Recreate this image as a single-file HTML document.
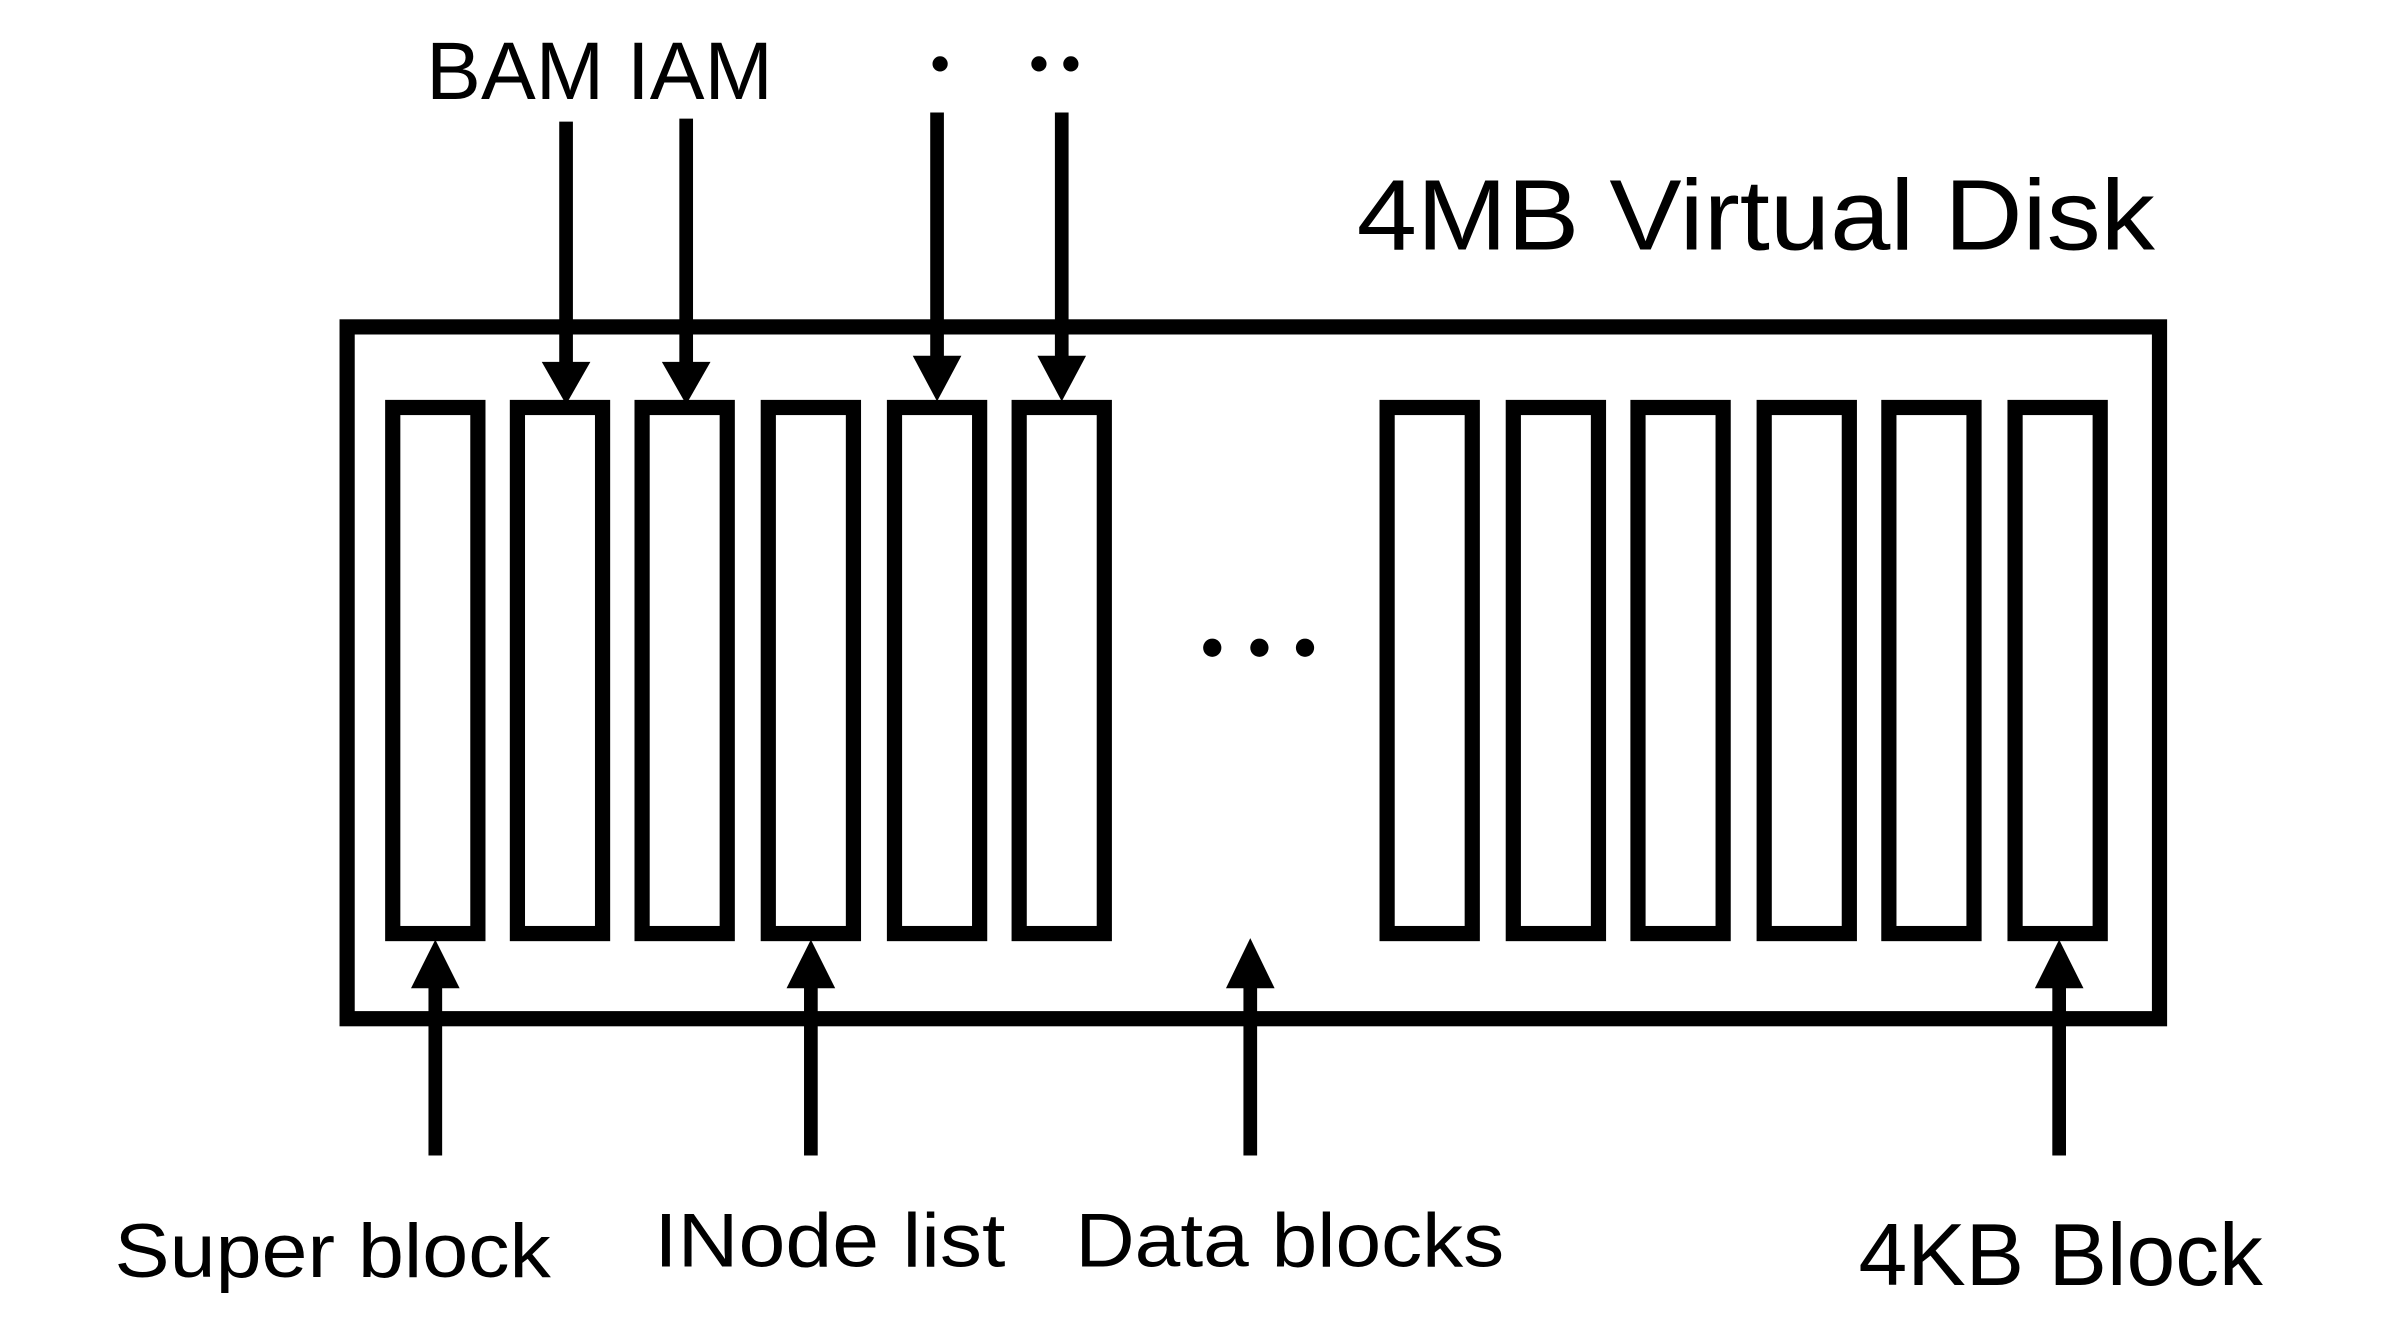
<!DOCTYPE html>
<html><head><style>html,body{margin:0;padding:0;background:#fff}svg{display:block}</style></head>
<body>
<svg width="2385" height="1338" viewBox="0 0 1568 880" xmlns="http://www.w3.org/2000/svg" font-family="Liberation Sans, sans-serif">
<rect width="1568" height="880" fill="#fff"/>
<g fill="none" stroke="#000" stroke-width="10">
<rect x="228" y="215" width="1192" height="455"/>
<rect x="258" y="268" width="56" height="346"/>
<rect x="340" y="268" width="56" height="346"/>
<rect x="422" y="268" width="56" height="346"/>
<rect x="505" y="268" width="56" height="346"/>
<rect x="588" y="268" width="56" height="346"/>
<rect x="670" y="268" width="56" height="346"/>
<rect x="912" y="268" width="56" height="346"/>
<rect x="995" y="268" width="56" height="346"/>
<rect x="1077" y="268" width="56" height="346"/>
<rect x="1160" y="268" width="56" height="346"/>
<rect x="1242" y="268" width="56" height="346"/>
<rect x="1325" y="268" width="56" height="346"/>
<g stroke-width="9">
<line x1="372" y1="80" x2="372" y2="240"/>
<line x1="451" y1="78" x2="451" y2="240"/>
<line x1="616" y1="74" x2="616" y2="240"/>
<line x1="698" y1="74" x2="698" y2="240"/>
<line x1="286" y1="760" x2="286" y2="645"/>
<line x1="533" y1="760" x2="533" y2="645"/>
<line x1="822" y1="760" x2="822" y2="645"/>
<line x1="1354" y1="760" x2="1354" y2="645"/>
</g>
</g>
<g fill="#000">
<polygon points="356,238 388,238 372,266"/>
<polygon points="435,238 467,238 451,266"/>
<polygon points="600,234 632,234 616,264"/>
<polygon points="682,234 714,234 698,264"/>
<polygon points="270,650 302,650 286,618"/>
<polygon points="517,650 549,650 533,618"/>
<polygon points="806,650 838,650 822,617"/>
<polygon points="1338,650 1370,650 1354,618"/>
<circle cx="797" cy="426" r="6"/><circle cx="828" cy="426" r="6"/><circle cx="858" cy="426" r="6"/>
<circle cx="618" cy="42" r="5"/><circle cx="683" cy="42" r="5"/><circle cx="704" cy="42" r="5"/>
<text x="280" y="65" font-size="54" textLength="228" lengthAdjust="spacingAndGlyphs">BAM IAM</text>
<text x="892" y="164" font-size="66" textLength="525" lengthAdjust="spacingAndGlyphs">4MB Virtual Disk</text>
<text x="75" y="840" font-size="50" textLength="287" lengthAdjust="spacingAndGlyphs">Super block</text>
<text x="430" y="833" font-size="50" textLength="231" lengthAdjust="spacingAndGlyphs">INode list</text>
<text x="707" y="833" font-size="50" textLength="282" lengthAdjust="spacingAndGlyphs">Data blocks</text>
<text x="1222" y="845" font-size="58" textLength="266" lengthAdjust="spacingAndGlyphs">4KB Block</text>
</g>
</svg>
</body></html>
